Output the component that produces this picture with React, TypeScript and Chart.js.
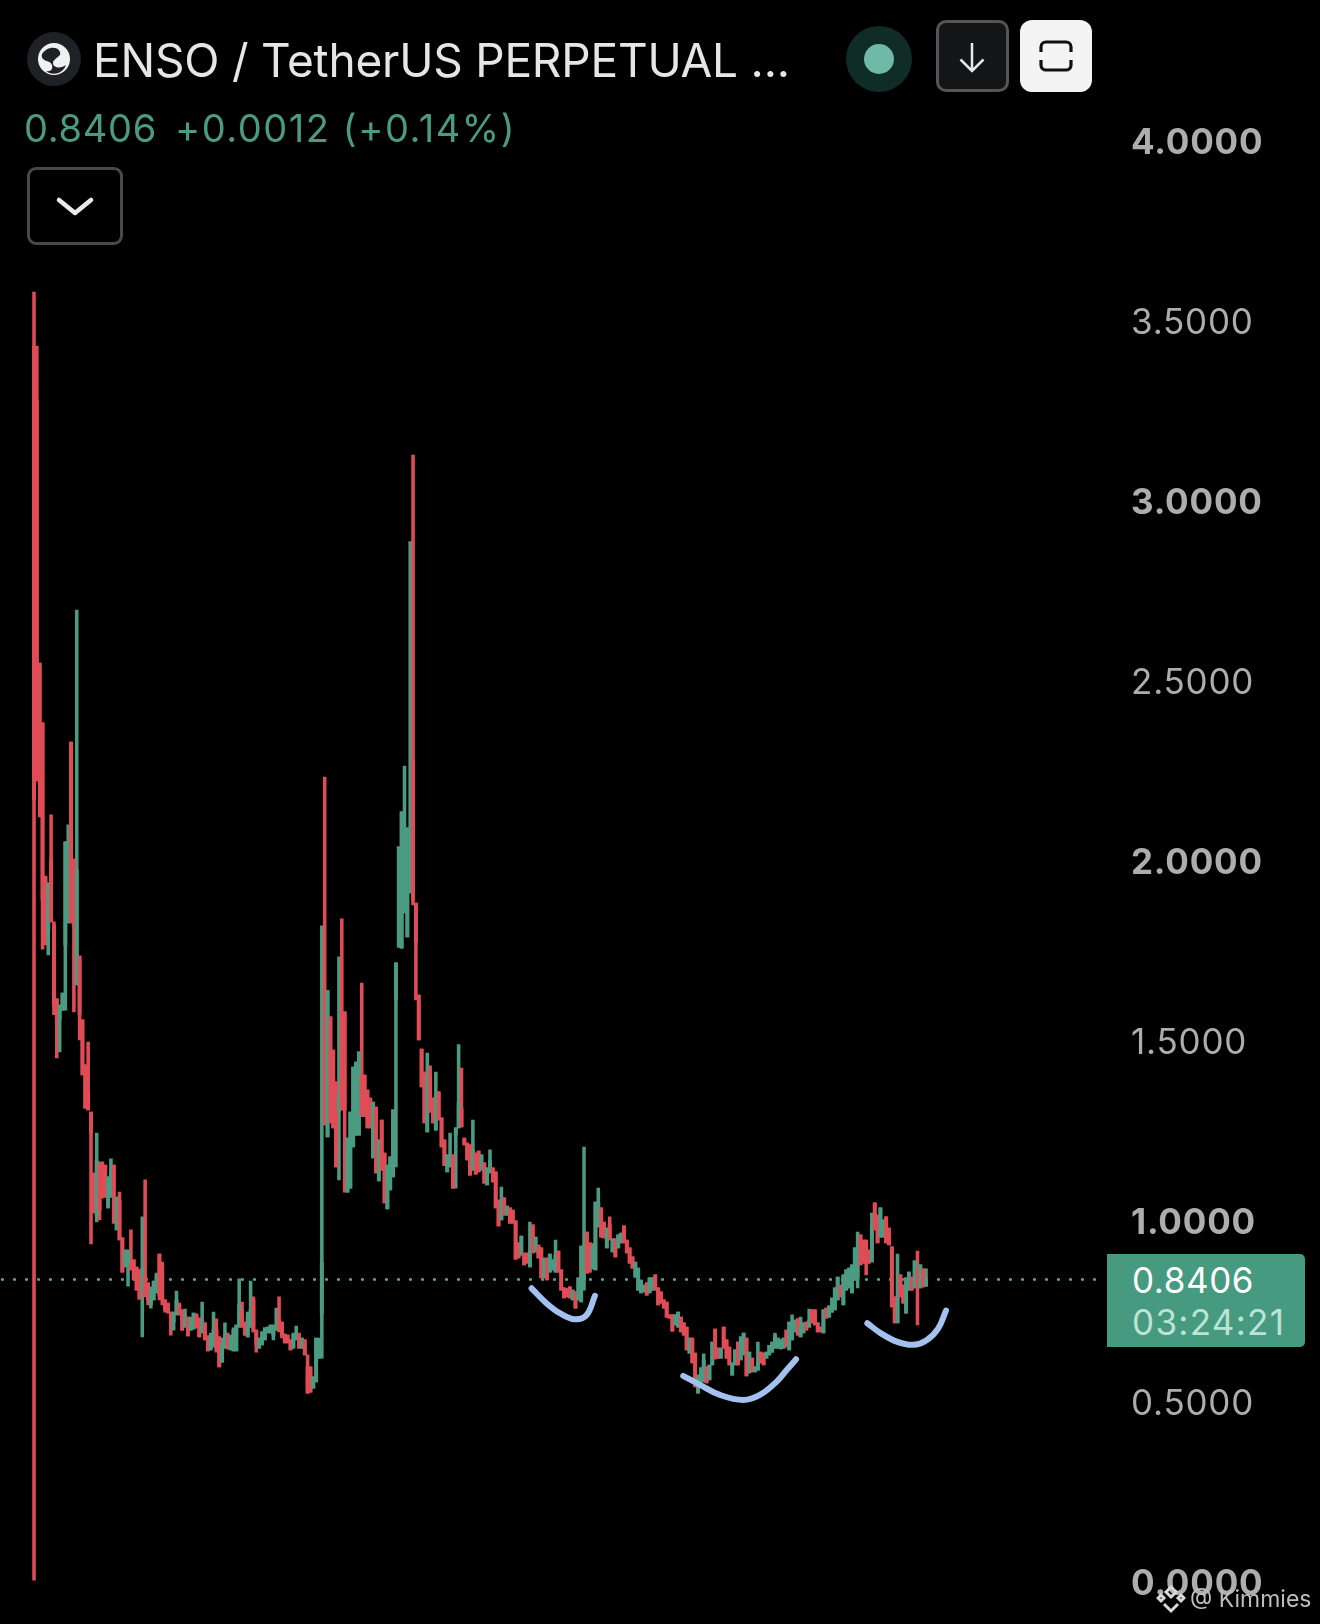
import React, { useEffect, useRef } from "react";
import { Chart, registerables } from "chart.js";

Chart.register(...registerables);

const title = "ENSO / TetherUS PERPETUAL ...";
const lastPrice = 0.8406;
const changeText = "+0.0012 (+0.14%)";
const countdown = "03:24:21";
const watermark = "@ Kimmies";
const priceTicks = [0, 0.5, 1, 1.5, 2, 2.5, 3, 3.5, 4];

const sides = (
  "RRRRRGRRRG" + "GGGRRGRRRR" + "RRGRRRGGRG" + "RRGGRRRRGR" + "RGGGRRRRRG" + "GRRGRGGRRG" + "RRGGRRGGRG" + "GGGRRGGRRG" +
  "GGGGGGRRRR" + "RGGRGRRRGG" + "GGRGRRRGRR" + "GGGGGRRRRG" + "RGRRGGGGGG" + "GGGRRRRRGR" + "RGRRRGGRGG" + "RRRRGRRGRG" +
  "GRRRGRGRRR" + "RGRRGRGRRG" + "RGGGRRRRRGR" + "GGGRRGGGRRG" + "RGRGGRRRR" + "GGGGRGGRRR" + "RRRRGGRRR" + "GRRGGGRGGR" +
  "RGRRRGGRGG" + "RGRGGRRGGG" + "GGGGRGGGRG" + "GRGRRRRGRG" + "GGGRGGGGGG" + "RRRRGRRGGR" + "RRRGRRGGRG" + "RGRG"
).split("");

const highs = [
  3.581,3.431,2.551,2.385,1.960,1.941,2.130,1.833,1.619,1.602,
  1.635,2.055,2.102,2.332,2.007,2.698,1.738,1.561,1.436,1.499,
  1.305,1.136,1.247,1.167,1.167,1.158,1.125,1.175,1.158,1.069,
  1.083,.956,.922,.922,.978,.895,.875,.867,1.014,1.117,
  .831,.820,.836,.858,.911,.889,.784,.775,.750,.750,
  .808,.775,.756,.758,.736,.736,.747,.745,.733,.778,
  .720,.684,.692,.750,.731,.681,.678,.720,.692,.686,
  .706,.714,.842,.778,.722,.750,.836,.792,.700,.678,
  .695,.706,.708,.714,.714,.761,.792,.722,.689,.686,
  .673,.692,.711,.692,.678,.673,.631,.598,.570,.678,
  .678,1.822,2.235,1.642,1.569,1.477,1.389,1.736,1.841,1.583,
  1.233,1.305,1.430,1.444,1.472,1.663,1.408,1.366,1.344,1.333,
  1.319,1.228,1.283,1.191,1.158,1.181,1.311,1.719,2.041,2.138,
  2.265,2.094,2.888,3.128,1.885,1.630,1.480,1.416,1.469,1.433,
  1.344,1.416,1.361,1.289,1.228,1.186,1.247,1.186,1.261,1.492,
  1.427,1.233,1.219,1.214,1.283,1.191,1.197,1.186,1.164,1.150,
  1.200,1.150,1.139,1.061,1.097,1.067,1.044,1.039,1.033,1.003,
  .942,.961,.914,.914,1.000,.992,.958,.936,.928,.900,
  .900,.911,.895,.950,.919,.867,.817,.815,.820,.811,.806,
  .845,.933,1.208,.972,.942,.940,1.055,1.094,1.039,1.000,.983,
  1.014,.953,.953,.964,.969,.989,.950,.928,.903,
  .889,.872,.839,.825,.831,.845,.845,.853,.817,.806,
  .784,.778,.742,.742,.742,.750,.736,.720,.708,
  .678,.678,.636,.575,.595,.634,.598,.603,.667,.703,
  .650,.650,.708,.673,.653,.609,.645,.667,.681,.692,
  .678,.639,.622,.598,.667,.639,.636,.639,.658,.667,
  .692,.678,.673,.678,.700,.722,.742,.728,.731,.736,
  .720,.722,.758,.756,.756,.720,.708,.756,.761,.767,
  .789,.817,.847,.825,.853,.867,.872,.881,.928,.972,
  .964,.950,.950,.922,1.025,1.053,1.019,1.039,1.006,1.014,
  .983,.931,.792,.911,.853,.825,.845,.861,.847,.892,
  .919,.881,.870,.870,
];

const bodyTops = [
  3.431,3.281,2.551,2.385,1.957,1.941,2.005,1.824,1.619,1.602,
  1.635,2.055,2.033,2.332,2.007,1.977,1.738,1.561,1.436,1.366,
  1.305,1.136,1.172,1.158,1.158,1.158,1.125,1.144,1.158,1.069,
  1.061,.956,.922,.922,.881,.895,.875,.867,.872,.853,
  .831,.811,.836,.853,.911,.881,.784,.775,.750,.750,
  .784,.770,.756,.742,.736,.733,.747,.742,.733,.728,
  .720,.684,.684,.700,.700,.681,.658,.686,.686,.681,
  .700,.714,.770,.756,.722,.742,.756,.784,.700,.678,
  .695,.706,.708,.714,.714,.714,.728,.722,.689,.686,
  .673,.686,.686,.686,.678,.673,.598,.598,.570,.678,
  .673,.886,1.644,1.642,1.569,1.477,1.389,1.353,1.583,1.583,
  1.233,1.305,1.430,1.444,1.472,1.408,1.408,1.366,1.344,1.333,
  1.319,1.228,1.283,1.191,1.158,1.181,1.311,1.719,2.041,2.138,
  2.060,2.094,2.094,2.282,1.885,1.630,1.480,1.416,1.408,1.408,
  1.344,1.353,1.361,1.289,1.228,1.186,1.186,1.186,1.261,1.330,
  1.316,1.233,1.219,1.214,1.200,1.191,1.197,1.186,1.164,1.150,
  1.172,1.150,1.139,1.061,1.061,1.067,1.044,1.039,1.033,1.003,
  .942,.961,.914,.914,.922,.992,.958,.936,.928,.900,
  .900,.911,.895,.908,.919,.867,.817,.815,.820,.811,.806,
  .845,.933,.933,.972,.942,.930,1.055,1.055,1.039,1.000,.983,
  .992,.953,.953,.964,.969,.989,.950,.928,.903,
  .889,.872,.839,.825,.831,.845,.845,.853,.817,.806,
  .784,.778,.742,.742,.742,.750,.736,.720,.708,
  .678,.678,.636,.575,.595,.617,.598,.603,.667,.703,
  .650,.650,.708,.673,.653,.609,.645,.667,.681,.692,
  .678,.639,.622,.598,.611,.639,.636,.639,.658,.667,
  .686,.678,.673,.678,.700,.722,.714,.728,.731,.714,
  .720,.722,.728,.756,.756,.720,.708,.756,.761,.767,
  .789,.817,.847,.825,.853,.867,.872,.881,.928,.928,
  .964,.950,.950,.922,.992,1.053,1.019,1.039,1.006,1.014,
  .983,.931,.792,.792,.853,.825,.845,.861,.847,.892,
  .867,.881,.870,.840,
];

const bodyBottoms = [
  2.171,2.224,2.254,1.894,1.866,1.810,1.833,1.602,1.561,1.561,
  1.588,1.769,1.830,1.830,1.824,1.658,1.575,1.408,1.316,1.311,
  1.247,1.025,1.019,1.033,1.067,1.069,1.039,1.069,.997,.978,
  .950,.861,.875,.881,.867,.839,.811,.786,.811,.797,
  .784,.770,.784,.803,.797,.784,.756,.750,.728,.722,
  .742,.742,.700,.708,.684,.700,.703,.706,.681,.692,
  .673,.642,.645,.653,.645,.598,.611,.650,.648,.645,
  .642,.642,.708,.708,.686,.681,.708,.695,.659,.650,
  .659,.673,.692,.692,.686,.700,.700,.686,.664,.664,
  .645,.650,.673,.650,.650,.631,.525,.528,.539,.556,
  .622,.747,1.283,1.236,1.275,1.261,1.153,1.305,1.311,1.311,
  1.083,1.094,1.208,1.241,1.241,1.297,1.292,1.261,1.261,1.178,
  1.136,1.114,1.144,1.053,1.036,1.089,1.125,1.616,1.763,1.760,
  1.858,1.791,1.913,1.894,1.777,1.505,1.375,1.275,1.250,1.305,
  1.275,1.255,1.283,1.208,1.156,1.139,1.153,1.094,1.241,1.261,
  1.264,1.214,1.172,1.130,1.144,1.133,1.139,1.144,1.108,1.103,
  1.136,1.111,1.039,.989,1.006,1.019,1.019,.997,.997,.897,
  .900,.908,.881,.886,.875,.914,.917,.900,.845,.845,
  .839,.861,.867,.861,.861,.811,.789,.792,.789,.784,.761,
  .784,.778,.839,.858,.861,.870,.867,.986,.958,.956,.928,
  .950,.917,.903,.928,.942,.942,.914,.886,.872,
  .847,.811,.803,.806,.797,.803,.811,.811,.770,.775,
  .761,.736,.733,.697,.714,.708,.695,.686,.645,
  .636,.609,.542,.525,.556,.556,.553,.562,.603,.620,
  .622,.622,.650,.622,.603,.575,.603,.603,.617,.631,
  .573,.581,.584,.584,.589,.609,.603,.622,.631,.639,
  .650,.650,.648,.650,.653,.645,.673,.695,.686,.681,
  .692,.700,.708,.720,.714,.695,.695,.692,.733,.736,
  .750,.756,.784,.792,.770,.811,.817,.803,.845,.845,
  .881,.886,.886,.886,.889,.978,.942,.958,.958,.942,
  .936,.764,.720,.720,.792,.775,.747,.811,.811,.817,
  .825,.817,.820,.822,
];

const lows = [
  .006,2.224,2.124,1.757,1.769,1.741,1.833,1.575,1.455,1.472,
  1.588,1.588,1.830,1.830,1.583,1.658,1.505,1.408,1.316,1.311,
  .939,1.025,1.000,1.006,1.067,1.069,1.039,1.069,.997,.978,
  .950,.861,.875,.822,.867,.839,.811,.786,.681,.792,
  .770,.761,.784,.803,.784,.770,.750,.747,.686,.700,
  .742,.742,.700,.708,.684,.700,.703,.706,.681,.692,
  .673,.642,.645,.653,.639,.598,.611,.650,.648,.645,
  .642,.642,.708,.708,.686,.681,.708,.695,.639,.650,
  .659,.673,.692,.692,.673,.700,.695,.678,.664,.664,
  .645,.650,.673,.650,.650,.631,.525,.528,.539,.556,
  .622,.622,1.269,1.236,1.275,1.261,1.153,1.117,1.311,1.083,
  1.083,1.094,1.208,1.241,1.241,1.292,1.292,1.261,1.261,1.178,
  1.136,1.114,1.144,1.053,1.036,1.089,1.125,1.153,1.763,1.760,
  1.858,1.791,1.913,1.880,1.616,1.505,1.375,1.275,1.250,1.305,
  1.275,1.255,1.283,1.208,1.156,1.139,1.153,1.094,1.094,1.261,
  1.264,1.214,1.172,1.130,1.144,1.133,1.139,1.144,1.108,1.103,
  1.136,1.111,1.039,.989,1.006,1.019,1.019,.997,.997,.897,
  .900,.908,.881,.886,.875,.914,.917,.900,.845,.845,
  .839,.861,.867,.861,.861,.811,.789,.792,.789,.784,.761,
  .784,.778,.811,.858,.861,.870,.867,.986,.958,.956,.928,
  .950,.917,.903,.928,.942,.942,.914,.886,.872,
  .847,.811,.803,.806,.797,.803,.811,.811,.770,.775,
  .761,.736,.733,.697,.714,.708,.695,.686,.645,
  .636,.609,.542,.525,.556,.556,.553,.562,.603,.620,
  .622,.622,.650,.622,.603,.575,.603,.603,.617,.631,
  .573,.581,.584,.584,.589,.609,.603,.622,.631,.639,
  .650,.650,.648,.650,.653,.645,.673,.695,.686,.681,
  .692,.700,.708,.720,.714,.695,.695,.692,.733,.736,
  .750,.756,.784,.792,.770,.811,.817,.803,.845,.817,
  .881,.886,.853,.886,.889,.978,.942,.958,.958,.942,
  .936,.764,.720,.720,.792,.775,.747,.811,.811,.817,
  .714,.817,.820,.822,
];

const markLeftX = [174.6, 179.9, 184.5, 189.8, 193.9, 196.8];
const markLeftY = [0.816, 0.774, 0.747, 0.73, 0.742, 0.795];
const markMidX = [227.8, 233.7, 240.7, 248.9, 254.7, 260.6, 264.1, 267.4];
const markMidY = [0.573, 0.548, 0.52, 0.506, 0.52, 0.557, 0.589, 0.619];
const markRightX = [292.4, 296.8, 302.7, 308.5, 313.2, 317.3, 320];
const markRightY = [0.719, 0.693, 0.668, 0.659, 0.672, 0.705, 0.754];

const RED = "#E04C55";
const GREEN = "#4B9B82";
const BLUE = "#A3C1EF";
const FONT = "Inter, 'Noto Sans', sans-serif";

const abs = (left: number, top: number, extra: any = {}): any => ({ position: "absolute", left, top, ...extra });

const priceLine = {
  id: "priceLine",
  beforeDraw(chart: any) {
    chart.ctx.letterSpacing = "0.8px";
  },
  beforeDatasetsDraw(chart: any) {
    const y = chart.scales.y.getPixelForValue(lastPrice);
    const c = chart.ctx;
    c.save();
    c.strokeStyle = "#5C9E8B";
    c.lineWidth = 2.5;
    c.setLineDash([3, 9]);
    c.beginPath();
    c.moveTo(1, y);
    c.lineTo(1098, y);
    c.stroke();
    c.restore();
  },
};

function mark(xs: number[], ys: number[]) {
  return {
    type: "line",
    data: xs.map((x, i) => ({ x, y: ys[i] })),
    borderColor: BLUE,
    borderWidth: 6,
    borderCapStyle: "round",
    borderJoinStyle: "round",
    tension: 0.4,
    pointRadius: 0,
    fill: false,
    clip: false,
  };
}

export default function App() {
  const ref = useRef<HTMLCanvasElement | null>(null);
  useEffect(() => {
    document.body.style.background = "#000";
    document.body.style.margin = "0";
    const colors = sides.map((s) => (s === "G" ? GREEN : RED));
    const chart = new Chart(ref.current as any, {
      type: "bar",
      plugins: [priceLine],
      data: {
        datasets: [
          mark(markLeftX, markLeftY),
          mark(markMidX, markMidY),
          mark(markRightX, markRightY),
          {
            data: bodyTops.map((t, i) => ({ x: i, y: [bodyBottoms[i], t] })),
            backgroundColor: colors,
            barThickness: 3.3,
            grouped: false,
            borderWidth: 0,
          },
          {
            data: highs.map((h, i) => ({ x: i, y: [lows[i], h] })),
            backgroundColor: colors,
            barThickness: 2.9,
            grouped: false,
            borderWidth: 0,
          },
        ] as any,
      },
      options: {
        responsive: false,
        animation: false,
        devicePixelRatio: 1,
        layout: { padding: { top: 141, bottom: 117.7, left: 0, right: 0 } },
        plugins: { legend: { display: false }, tooltip: { enabled: false } },
        scales: {
          x: { type: "linear", min: -11.93, max: 375.8, display: false, offset: false },
          y: {
            position: "right",
            min: 0,
            max: 4,
            afterFit: (s: any) => {
              s.width = 215;
            },
            afterBuildTicks: (s: any) => {
              s.ticks = priceTicks.map((value) => ({ value }));
            },
            grid: { display: false, drawTicks: false },
            border: { display: false },
            ticks: {
              autoSkip: false,
              crossAlign: "near",
              padding: 26,
              labelOffset: 2,
              color: "#ADADAD",
              font: (ctx: any) =>
                Number.isInteger(ctx.tick?.value)
                  ? { family: FONT, size: 35, weight: "700" }
                  : { family: FONT, size: 35, weight: "400" },
              callback: (v: any) => Number(v).toFixed(4),
            },
          },
        },
      } as any,
    });
    return () => chart.destroy();
  }, []);

  return (
    <div style={abs(0, 0, { width: 1320, height: 1624, background: "#000", overflow: "hidden", fontFamily: FONT })}>
      <canvas ref={ref} width={1320} height={1700} style={abs(0, 0, { display: "block", width: 1320, height: 1700 })} />

      <svg width={54} height={54} viewBox="0 0 54 54" style={abs(27, 32)}>
        <circle cx={27} cy={27} r={27} fill="#1E2226" />
        <circle cx={27} cy={27} r={16} fill="#F0F0F0" />
        <path d="M15 22c5-8 16-8 18-2 2 5-7 6-7 11 0 5 8 6 13 2-3 9-14 11-20 6 5 1 7-2 6-6-1-5-12-3-10-11z" fill="#1E2226" />
      </svg>
      <div style={abs(93, 32, { fontSize: 46, lineHeight: "56px", color: "#E6E6E6", whiteSpace: "nowrap", letterSpacing: -0.2 })}>{title}</div>

      <div style={abs(24, 104, { fontSize: 38, lineHeight: "48px", color: GREEN, whiteSpace: "nowrap", letterSpacing: 0.7 })}>{lastPrice.toFixed(4)}</div>
      <div style={abs(175, 104, { fontSize: 38, lineHeight: "48px", color: GREEN, whiteSpace: "nowrap", letterSpacing: 1.55 })}>{changeText}</div>

      <svg width={66} height={66} viewBox="0 0 66 66" style={abs(846, 26)}>
        <circle cx={33} cy={33} r={33} fill="#0F2C27" />
        <circle cx={33} cy={33} r={15} fill="#6FBAA6" />
      </svg>

      <div style={abs(936, 20, { width: 73, height: 72, boxSizing: "border-box", border: "3px solid #555", borderRadius: 10, background: "#131516" })} />
      <svg width={72} height={72} viewBox="0 0 72 72" style={abs(936, 20)}>
        <path d="M36 23V50M24.5 39.5L36 51L47.5 39.5" fill="none" stroke="#E8E8E8" strokeWidth={2.5} />
      </svg>

      <div style={abs(1020, 20, { width: 72, height: 72, borderRadius: 12, background: "#F4F4F4" })} />
      <svg width={72} height={72} viewBox="0 0 72 72" style={abs(1020, 20)}>
        <path d="M21 32V27a5 5 0 0 1 5-5h20a5 5 0 0 1 5 5v5M21 40v5a5 5 0 0 0 5 5h20a5 5 0 0 0 5-5v-5" fill="none" stroke="#111" strokeWidth={3.2} />
      </svg>

      <div style={abs(27, 167, { width: 96, height: 78, boxSizing: "border-box", border: "3px solid #484848", borderRadius: 9 })} />
      <svg width={96} height={78} viewBox="0 0 96 78" style={abs(27, 167)}>
        <path d="M32 33L48 46L64 33" fill="none" stroke="#EAEAEA" strokeWidth={4.5} strokeLinecap="round" strokeLinejoin="round" />
      </svg>

      <div style={abs(1107, 1254, { width: 198, height: 93, background: "#459A80", borderRadius: "0 5px 5px 0" })} />
      <div style={abs(1132, 1258, { fontSize: 35, lineHeight: "44px", color: "#FFFFFF", whiteSpace: "nowrap", letterSpacing: 0.6 })}>{lastPrice.toFixed(4)}</div>
      <div style={abs(1132, 1300, { fontSize: 35, lineHeight: "44px", color: "#BDE3D5", whiteSpace: "nowrap", letterSpacing: 1.3 })}>{countdown}</div>

      <svg width={30} height={30} viewBox="0 0 30 30" style={abs(1156, 1584)}>
        <g fill="none" stroke="#D8D8D8" strokeWidth={3}>
          <path d="M15 3l5 5-5 5-5-5z" />
          <path d="M5 11l3 3-3 3-3-3z" />
          <path d="M25 11l3 3-3 3-3-3z" />
          <path d="M8 20l7 7 7-7" />
        </g>
      </svg>
      <div style={abs(1190, 1583, { fontSize: 23, lineHeight: "32px", color: "#BEBEBE", whiteSpace: "nowrap" })}>{watermark}</div>
    </div>
  );
}
